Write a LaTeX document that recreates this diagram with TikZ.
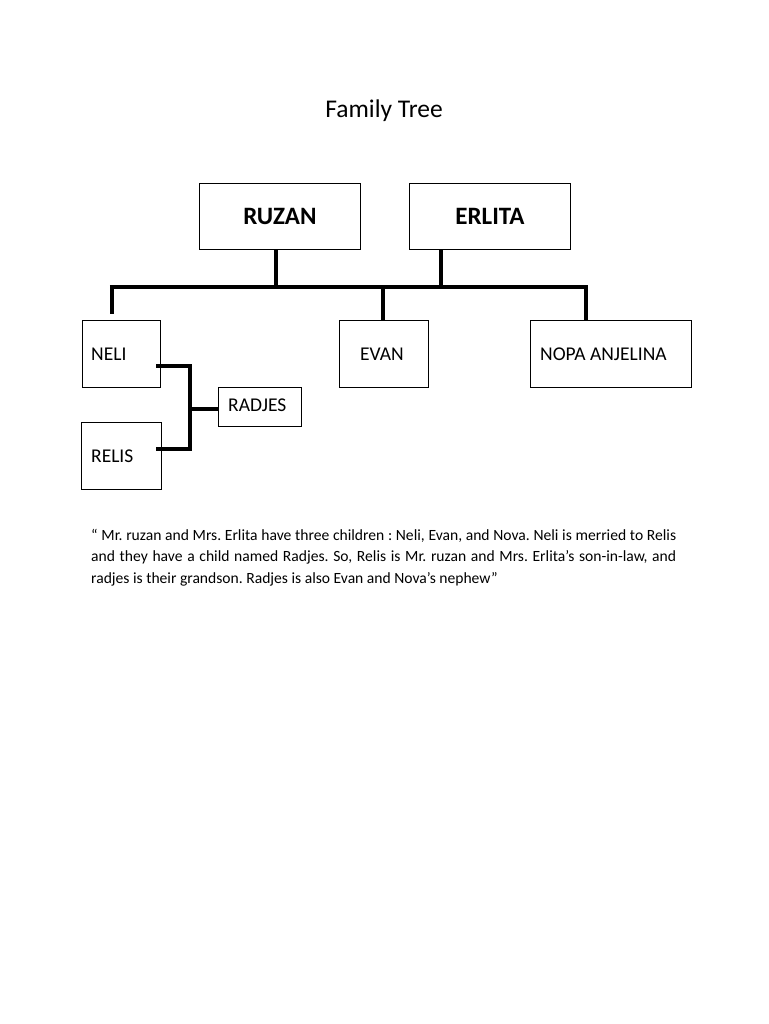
\documentclass[tikz,border=0pt]{standalone}
\usepackage{fontspec}
\setmainfont{Carlito}
\begin{document}
\frenchspacing
\begin{tikzpicture}[x=1pt,y=-1pt,
  box/.style={draw,line width=0.9pt,inner sep=0pt,anchor=north west},
  conn/.style={line width=4.5pt},
  thin/.style={line width=3.5pt},
  lbl/.style={font=\fontsize{19.5}{22}\selectfont,anchor=west,inner sep=0pt}]
\useasboundingbox (0,0) rectangle (768,1024);
\node (title) at (384,111) {\fontsize{25.5}{30}\selectfont Family Tree};
% parents
\node[box,minimum width=161pt,minimum height=66pt] (ruzan) at (199,183) {};
\node[font=\fontsize{25}{29}\selectfont\bfseries] (ruzant) at (ruzan.center) {RUZAN};
\node[box,minimum width=161pt,minimum height=66pt] (erlita) at (409,183) {};
\node[font=\fontsize{25}{29}\selectfont\bfseries] (erlitat) at (erlita.center) {ERLITA};
% children
\node[box,minimum width=78pt,minimum height=67pt] (neli) at (82,320) {};
\node[lbl] (nelit) at (91,354) {NELI};
\node[box,minimum width=89pt,minimum height=67pt] (evan) at (339,320) {};
\node[lbl] (evant) at (360,354) {EVAN};
\node[box,minimum width=161pt,minimum height=67pt] (nopa) at (530,320) {};
\node[lbl] (nopat) at (540,354) {NOPA ANJELINA};
\node[box,minimum width=83pt,minimum height=39pt] (radjes) at (218,387) {};
\node[lbl] (radjest) at (228,405) {RADJES};
\node[box,minimum width=80pt,minimum height=67pt] (relis) at (81,422) {};
\node[lbl] (relist) at (91,456) {RELIS};
% connectors
\coordinate (bl) at (112,287);
\coordinate (br) at (586,287);
\coordinate (ldrop) at (112,314);
\draw[conn] ([xshift=-2.25pt]bl) -- ([xshift=2.25pt]br);
\draw[conn] (ruzan.south -| 276,0) -- (276,287);
\draw[conn] (erlita.south -| 441,0) -- (441,287);
\draw[conn] (bl) -- (ldrop);
\draw[conn] (383,287) -- (evan.north -| 383,0);
\draw[conn] (br) -- (nopa.north -| 586,0);
\coordinate (nj) at (156,366);
\coordinate (rj) at (156,449);
\draw[conn,line join=miter] (nj) -- (190,366) -- (190,449) -- (rj);
\draw[thin] (190,409) -- (radjes.west |- 190,409);
% paragraph
\node[anchor=north west,inner sep=0pt,text width=585pt,align=justify,
  font=\fontsize{15.6}{21.5}\selectfont] (para) at (91,529)
  {\hspace*{0pt}“\ Mr. ruzan and Mrs. Erlita have three children : Neli, Evan, and Nova. Neli is merried to Relis and they have a child named Radjes. So, Relis is Mr. ruzan and Mrs. Erlita's son-in-law, and radjes is their grandson. Radjes is also Evan and Nova's nephew”};
\end{tikzpicture}
\end{document}
